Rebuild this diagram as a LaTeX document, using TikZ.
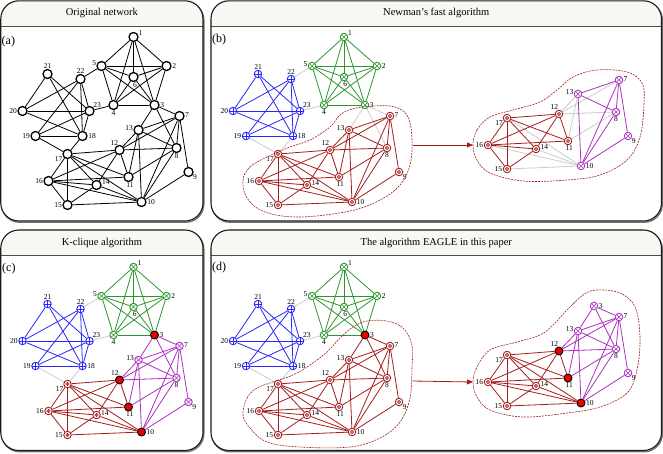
\documentclass[tikz,border=0pt]{standalone}
\usepackage{fontspec}
\setmainfont{Liberation Serif}
\usetikzlibrary{arrows.meta}
\pgfdeclarelayer{bgzero}
\pgfdeclarelayer{edgelayer}
\pgfsetlayers{bgzero,edgelayer,main}

\definecolor{cg}{RGB}{45,150,45}
\definecolor{cb}{RGB}{40,40,250}
\definecolor{cr}{RGB}{165,30,30}
\definecolor{cp}{RGB}{170,50,190}
\definecolor{cgray}{RGB}{205,205,205}
\definecolor{cfill}{RGB}{235,0,0}
\definecolor{ctitle}{RGB}{234,238,224}

\tikzset{
 lbl/.style={font=\fontsize{7.5}{8}\selectfont, inner sep=0.4pt, rectangle, minimum size=0pt, draw=none, fill=none, line width=0.4pt},
 nd/.style={circle, inner sep=0pt, minimum size=7.5pt, line width=0.9pt, fill=white},
 wnode/.style={nd, draw=black, minimum size=9pt, line width=1.3pt},
 xcross/.style={path picture={\draw[#1, line width=0.6pt] (path picture bounding box.north west) -- (path picture bounding box.south east) (path picture bounding box.north east) -- (path picture bounding box.south west);}},
 gnode/.style={nd, draw=cg, xcross=cg},
 pnode/.style={nd, draw=cp, xcross=cp},
 bnode/.style={nd, draw=cb, path picture={\draw[cb, line width=0.7pt] (path picture bounding box.north) -- (path picture bounding box.south) (path picture bounding box.east) -- (path picture bounding box.west);}},
 rnode/.style={nd, draw=cr, path picture={\draw[cr, line width=0.5pt] (path picture bounding box.center) circle[radius=1.7pt]; \fill[cr] (path picture bounding box.center) circle[radius=0.8pt];}},
 onode/.style={nd, draw=black, fill=cfill, minimum size=8pt},
 ttl/.style={font=\fontsize{10.5}{12}\selectfont},
 plab/.style={font=\fontsize{12}{14}\selectfont, inner sep=0pt},
 ln/.style={line width=0.8pt},
 eblack/.style={ln, black},
 egreen/.style={ln, cg},
 eblue/.style={ln, cb},
 ered/.style={ln, cr},
 epurple/.style={ln, cp},
 egray/.style={ln, cgray},
 blob/.style={cr, line width=0.6pt, dash pattern=on 2pt off 1pt},
 arr/.style={cr, line width=0.8pt, -{Triangle[length=6pt,width=5pt]}},
 % class styles per panel
 a-G/.style=wnode, a-T/.style=wnode, a-B/.style=wnode, a-P/.style=wnode, a-X/.style=wnode, a-O/.style=wnode, a-R/.style=wnode,
 b-G/.style=gnode, b-T/.style=gnode, b-B/.style=bnode, b-P/.style=rnode, b-X/.style=rnode, b-O/.style=rnode, b-R/.style=rnode,
 c-G/.style=gnode, c-T/.style=onode, c-B/.style=bnode, c-P/.style=pnode, c-X/.style=onode, c-O/.style=onode, c-R/.style=rnode,
 d-G/.style=gnode, d-T/.style=onode, d-B/.style=bnode, d-P/.style=rnode, d-X/.style=rnode, d-O/.style=rnode, d-R/.style=rnode,
 e-T/.style=pnode, e-P/.style=pnode, e-X/.style=pnode, e-O/.style=rnode, e-R/.style=rnode,
 f-T/.style=pnode, f-P/.style=pnode, f-X/.style=onode, f-O/.style=onode, f-R/.style=rnode,
}

\def\leftlist{1/133.5/37/G/30, 2/166.5/66/G/0, 3/154.5/105/T/0, 4/113.5/105/G/-90, 5/101.5/66/G/160, 6/133.5/77/G/-80, 7/179.5/116/P/10, 8/176.5/148/P/-90, 9/188.5/172/P/-40, 10/141.5/202/X/0, 11/128.5/177/O/-80, 12/119.5/150/O/125, 13/138.5/130/P/170, 14/96.5/185/R/15, 15/67.5/205/R/180, 16/48.5/181/R/180, 17/67.5/154/R/210, 18/82.5/136/B/0, 19/35.5/136/B/180, 20/22.5/111/B/180, 21/47.5/74/B/90, 22/80.5/79/B/90, 23/89.5/111/B/40}
\def\clusterlist{7/179.5/116/P/10, 8/176.5/148/P/-90, 9/188.5/172/P/-40, 10/141.5/202/X/0, 11/128.5/177/O/-80, 12/119.5/150/O/125, 13/138.5/130/P/170, 14/96.5/185/R/15, 15/67.5/205/R/180, 16/48.5/181/R/180, 17/67.5/154/R/210}
\def\clusterlistT{3/154.5/105/T/0, 7/179.5/116/P/10, 8/176.5/148/P/-90, 9/188.5/172/P/-40, 10/141.5/202/X/0, 11/128.5/177/O/-80, 12/119.5/150/O/125, 13/138.5/130/P/170, 14/96.5/185/R/15, 15/67.5/205/R/180, 16/48.5/181/R/180, 17/67.5/154/R/210}

\def\GE{1/2,1/3,1/4,1/5,1/6,2/3,2/4,2/5,2/6,3/4,3/5,3/6,4/5,4/6,5/6}
\def\BE{21/20,21/23,21/18,22/20,22/19,22/18,22/23,20/23,20/18,19/23,19/18,23/18}
\def\IE{22/5,23/4,19/17,18/17}
\def\TE{3/7,3/13,3/8}
\def\RRa{17/12,17/16,17/15,17/14,17/11,16/12,16/14,16/11,16/15,15/14,14/12,12/11}
\def\RRb{17/10,16/10,15/10,14/10}
\def\PPa{13/7,13/8,13/10,7/8,7/9,7/10,8/10,9/10}
\def\PPb{12/13,12/7,12/8,11/13,11/8}

\newcommand\placenodes[4]{%
 \begin{scope}[shift={(#2,#3)}]
 \foreach \nn/\xx/\yy/\cl/\ang in #4 {
   \node[#1-\cl] (#1\nn) at (\xx,\yy) {};
   \node[lbl, anchor=\ang+180] (#1\nn l) at (#1\nn.\ang) {\nn};
 }
 \end{scope}}
\newcommand\edges[3]{%
 \begin{pgfonlayer}{edgelayer}
 \foreach \ea/\eb in #3 {\draw[#2] (#1\ea) -- (#1\eb);}
 \end{pgfonlayer}}
\newcommand\panel[7]{% name x1 y1 x2 y2 ytitle title
 \begin{pgfonlayer}{bgzero}
 \draw[black!55, line width=1.4pt, rounded corners=18pt] (#2+0.8,#3+1.2) rectangle (#4+0.8,#5+1.2);
 \fill[white, rounded corners=18pt] (#2,#3) rectangle (#4,#5);
 \begin{scope}
  \clip (#2,#3) rectangle (#4,#6);
  \shade[top color=ctitle!35!white, bottom color=ctitle, rounded corners=18pt] (#2,#3) rectangle (#4,#5);
 \end{scope}
 \draw[black!70, line width=0.8pt] (#2,#6) -- (#4,#6);
 \draw[black!90, line width=1.1pt, rounded corners=18pt] (#2,#3) rectangle (#4,#5);
 \end{pgfonlayer}
 \node[ttl] (t#1) at ({(#2+#4)/2},{(#3+#6)/2}) {#7};}

\begin{document}
\begin{tikzpicture}[x=1pt,y=-1pt]
\useasboundingbox (0,0) rectangle (663,453);

\panel{a}{0.8}{0.8}{203}{221}{26}{Original network}
\panel{b}{211}{0.8}{661.5}{221}{26}{Newman's fast algorithm}
\panel{c}{0.8}{230}{203}{450.5}{255}{K-clique algorithm}
\panel{d}{211}{230}{661.5}{450.5}{255}{The algorithm EAGLE in this paper}

\node[plab, anchor=west] (la) at (1.5,42) {(a)};
\node[plab, anchor=west] (lb) at (212,40) {(b)};
\node[plab, anchor=west] (lc) at (2,269) {(c)};
\node[plab, anchor=west] (ld) at (212,268) {(d)};

% nodes
\placenodes{a}{0}{0}{\leftlist}
\placenodes{b}{210.5}{0}{\leftlist}
\placenodes{c}{0}{230}{\leftlist}
\placenodes{d}{210.5}{230}{\leftlist}
\placenodes{e}{439.5}{-36}{\clusterlist}
\placenodes{f}{439.5}{201}{\clusterlistT}

% (a)
\edges{a}{eblack}{\GE}\edges{a}{eblack}{\BE}\edges{a}{eblack}{\IE}\edges{a}{eblack}{\TE}
\edges{a}{eblack}{\RRa}\edges{a}{eblack}{\RRb}\edges{a}{eblack}{\PPa}\edges{a}{eblack}{\PPb}
% (b)
\edges{b}{egray}{\IE}\edges{b}{egray}{\TE}
\edges{b}{egreen}{\GE}\edges{b}{eblue}{\BE}
\edges{b}{ered}{\RRa}\edges{b}{ered}{\RRb}\edges{b}{ered}{\PPa}\edges{b}{ered}{\PPb}
\edges{e}{egray}{\RRb}\edges{e}{egray}{\PPb}
\edges{e}{ered}{\RRa}\edges{e}{epurple}{\PPa}
% (c)
\edges{c}{egray}{\IE}
\edges{c}{egreen}{\GE}\edges{c}{eblue}{\BE}\edges{c}{epurple}{\TE}
\edges{c}{ered}{\RRa}\edges{c}{ered}{\RRb}\edges{c}{epurple}{\PPa}\edges{c}{epurple}{\PPb}
% (d)
\edges{d}{egray}{\IE}
\edges{d}{egreen}{\GE}\edges{d}{eblue}{\BE}\edges{d}{ered}{\TE}
\edges{d}{ered}{\RRa}\edges{d}{ered}{\RRb}\edges{d}{ered}{\PPa}\edges{d}{ered}{\PPb}
\edges{f}{epurple}{\TE}\edges{f}{ered}{\RRa}\edges{f}{ered}{\RRb}\edges{f}{epurple}{\PPa}\edges{f}{epurple}{\PPb}

% community outlines
\draw[blob] plot[smooth cycle, tension=0.6] coordinates {(243,180) (250,167) (267,157) (290,147) (310,140) (330,127) (340,115) (352,109) (373,106) (395,107) (408,117) (412,140) (410,165) (400,185) (380,200) (350,211) (300,217) (265,212) (247,198)};
\draw[blob] plot[smooth cycle, tension=0.6] coordinates {(473,145) (477,130) (490,117) (513,110) (540,102) (557,90) (573,77) (597,70) (627,72) (642,83) (644,103) (640,137) (627,160) (600,175) (567,180) (523,181) (490,173) (477,160)};
\draw[blob] plot[smooth cycle, tension=0.6] coordinates {(243,415) (247,398) (257,388) (273,382) (293,375) (310,365) (327,352) (340,338) (353,327) (367,321) (387,321) (403,328) (412,345) (412,368) (410,398) (400,422) (380,438) (350,447) (300,447) (267,442) (250,428)};
\draw[blob] plot[smooth cycle, tension=0.6] coordinates {(473,382) (477,367) (490,350) (517,342) (540,335) (553,325) (567,310) (583,295) (597,290) (620,293) (635,307) (640,337) (637,370) (627,393) (600,407) (567,413) (523,417) (490,410) (477,397)};

\coordinate (bA) at (412.5,145);
\coordinate (bB) at (473,145);
\coordinate (dA) at (412.5,381);
\coordinate (dB) at (473,382);
\draw[arr] (bA) -- (bB);
\draw[arr] (dA) -- (dB);
\end{tikzpicture}
\end{document}
